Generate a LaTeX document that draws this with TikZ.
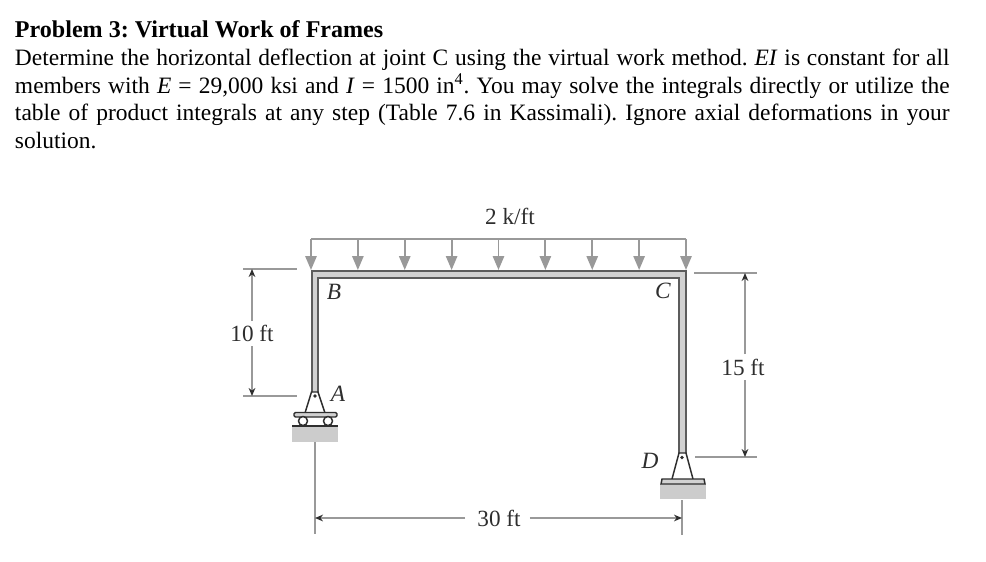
\documentclass[tikz,border=0pt]{standalone}
\usepackage{fontspec}
\setmainfont{Liberation Serif}
\usetikzlibrary{arrows.meta}
\definecolor{dimgray}{gray}{0.60}
\definecolor{framedark}{gray}{0.36}
\definecolor{framefill}{gray}{0.82}
\definecolor{groundfill}{gray}{0.80}
\definecolor{ink}{gray}{0.18}
\tikzset{
  x=0.75pt,y=-0.75pt,
  textline/.style={anchor=base west,inner sep=0,outer sep=0,font=\fontsize{17.6pt}{19pt}\selectfont,text=black},
  headline/.style={anchor=base west,inner sep=0,outer sep=0,font=\bfseries\fontsize{18.05pt}{19pt}\selectfont,text=black},
  dimlabel/.style={inner sep=0,font=\fontsize{17.4pt}{19pt}\selectfont,text=ink},
  jointlabel/.style={inner sep=0,font=\itshape\fontsize{17.5pt}{19pt}\selectfont,text=ink},
  dimline/.style={draw=dimgray,line width=1.1pt},
  dimarrow/.style={dimline,-{Stealth[length=6pt,width=5pt,color=ink]}},
  loadarrow/.style={draw=dimgray,line width=1.4pt,-{Triangle[length=10.5pt,width=8.5pt,color=dimgray]}},
  supportline/.style={draw=ink,line width=1.1pt},
}
\frenchspacing
\begin{document}
\begin{tikzpicture}
\useasboundingbox (0,0) rectangle (986,561);
\fill[white] (0,0) rectangle (986,561);
% text
\node[headline] (t0) at (15,37) {Problem 3: Virtual Work of Frames};
\node[textline] (t1) at (15,65) {\makebox[701pt][s]{Determine the horizontal deflection at joint C using the virtual work method. \textit{EI} is constant for all}};
\node[textline] (t2) at (15,93) {\makebox[701pt][s]{members with \textit{E} = 29,000 ksi and \textit{I} = 1500 in\textsuperscript{4}. You may solve the integrals directly or utilize the}};
\node[textline] (t3) at (15,120) {\makebox[701pt][s]{table of product integrals at any step (Table 7.6 in Kassimali). Ignore axial deformations in your}};
\node[textline] (t4) at (15,148) {solution.};
% labels
\node[dimlabel] (load) at (510,216) {2 k/ft};
\node[dimlabel] (ten) at (252,333) {10 ft};
\node[dimlabel] (fifteen) at (743,367) {15 ft};
\node[dimlabel] (thirty) at (499,518) {30 ft};
\node[jointlabel] (B) at (334,292) {B};
\node[jointlabel] (C) at (663,291) {C};
\node[jointlabel] (A) at (338,394) {A};
\node[jointlabel] (D) at (650,461) {D};
% load
\coordinate (lL) at (311,239);
\coordinate (lR) at (686,239);
\draw[draw=dimgray,line width=1.4pt] (lL) -- (lR);
\foreach \i in {0,...,8}{
  \pgfmathsetmacro{\xx}{311+\i*46.875}
  \draw[loadarrow] (\xx,239) -- (\xx,270);
}
% frame
\fill[framefill] (311.5,392) -- (311.5,270.5) -- (686,270.5) -- (686,453) -- (679,453) -- (679,277.5) -- (318,277.5) -- (318,392) -- cycle;
\draw[framedark,line width=1.5pt] (311.5,392) -- (311.5,270.5) -- (686,270.5) -- (686,453);
\draw[framedark,line width=1.5pt] (318,392) -- (318,277.5) -- (679,277.5) -- (679,453);
% support A
\fill[groundfill] (292,426) rectangle (338,442);
\draw[supportline,line width=1.3pt] (292,426) -- (338,426);
\draw[supportline,fill=white] (305,413) -- (311.5,392) -- (318,392) -- (325,413);
\fill[ink] (315,396) circle (1.8);
\draw[supportline,fill=framefill,rounded corners=1pt] (294,412.5) rectangle (337,417);
\draw[supportline,fill=white] (303,421) circle (4.5);
\draw[supportline,fill=white] (328,421) circle (4.5);
% support D
\fill[groundfill] (660,484) rectangle (706,499);
\draw[supportline,fill=white] (672,479) -- (679,453) -- (686,453) -- (693,479);
\fill[ink] (682,457.5) circle (1.8);
\draw[supportline,fill=framefill] (661,484) -- (662,479) -- (704,479) -- (705,484) -- cycle;
% dimension left
\coordinate (t10a) at (243,269);
\coordinate (t10b) at (297,269);
\coordinate (b10a) at (243,396);
\coordinate (b10b) at (297,396);
\draw[dimline] (t10a) -- (t10b);
\draw[dimline] (b10a) -- (b10b);
\draw[dimarrow] (252,321) -- (252,269);
\draw[dimarrow] (252,346) -- (252,396);
% dimension right
\coordinate (t15a) at (694,273);
\coordinate (t15b) at (757,273);
\coordinate (b15a) at (695,457);
\coordinate (b15b) at (757,457);
\draw[dimline] (t15a) -- (t15b);
\draw[dimline] (b15a) -- (b15b);
\draw[dimarrow] (745,354) -- (745,273);
\draw[dimarrow] (745,380) -- (745,457);
% dimension bottom
\coordinate (eL0) at (315,442);
\coordinate (eL1) at (315,534);
\coordinate (eR0) at (682,500);
\coordinate (eR1) at (682,535);
\draw[dimline] (eL0) -- (eL1);
\draw[dimline] (eR0) -- (eR1);
\draw[dimarrow] (thirty.west) ++(-12,0) -- (315,518);
\draw[dimarrow] (thirty.east) ++(9,0) -- (682,518);
\end{tikzpicture}
\end{document}
